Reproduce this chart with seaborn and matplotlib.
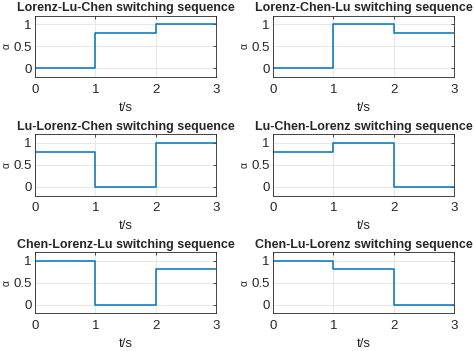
import numpy as np
import pandas as pd
import seaborn as sns
import matplotlib.pyplot as plt

# switching sequences: alpha value on each 1 s interval
titles = [
    "Lorenz-Lu-Chen switching sequence",
    "Lorenz-Chen-Lu switching sequence",
    "Lu-Lorenz-Chen switching sequence",
    "Lu-Chen-Lorenz switching sequence",
    "Chen-Lorenz-Lu switching sequence",
    "Chen-Lu-Lorenz switching sequence",
]
t = [0, 1, 2, 3]
alpha_lorenz_lu_chen = [0, 0.8, 1, 1]
alpha_lorenz_chen_lu = [0, 1, 0.8, 0.8]
alpha_lu_lorenz_chen = [0.8, 0, 1, 1]
alpha_lu_chen_lorenz = [0.8, 1, 0, 0]
alpha_chen_lorenz_lu = [1, 0, 0.8, 0.8]
alpha_chen_lu_lorenz = [1, 0.8, 0, 0]
series = [alpha_lorenz_lu_chen, alpha_lorenz_chen_lu, alpha_lu_lorenz_chen,
          alpha_lu_chen_lorenz, alpha_chen_lorenz_lu, alpha_chen_lu_lorenz]

sns.set_theme(style="white")
plt.rcParams["font.family"] = ["Liberation Sans", "DejaVu Sans"]

fig = plt.figure(figsize=(4.74, 3.51), dpi=100)
lefts = [0.074, 0.576]
bottoms = [0.780, 0.443, 0.107]
w, h = 0.382, 0.1755

for i, (title, vals) in enumerate(zip(titles, series)):
    ax = fig.add_axes([lefts[i % 2], bottoms[i // 2], w, h])
    df = pd.DataFrame({"t": t, "alpha": vals})
    sns.lineplot(data=df, x="t", y="alpha", ax=ax, color="#0072BD",
                 linewidth=1.1, drawstyle="steps-post")
    ax.set_xlim(0, 3)
    ax.set_ylim(-0.2, 1.2)
    ax.set_xticks([0, 1, 2, 3])
    ax.set_yticks([0, 0.5, 1])
    ax.set_yticklabels(["0", "0.5", "1"])
    ax.grid(True, color="#e3e3e3", linewidth=0.6)
    ax.tick_params(direction="in", length=2.5, width=0.6, labelsize=9.5,
                   colors="#262626", top=True, right=True)
    ax.tick_params(axis="x", pad=5)
    ax.tick_params(axis="y", pad=2.5)
    for s in ax.spines.values():
        s.set_color("#262626")
        s.set_linewidth(0.6)
    ax.set_title(title, fontsize=9, fontweight="bold", pad=3)
    ax.set_xlabel("t/s", fontsize=9.5, labelpad=4)
    ax.set_ylabel("α", fontsize=7.5, labelpad=1)

fig.savefig("out.png", dpi=100)
